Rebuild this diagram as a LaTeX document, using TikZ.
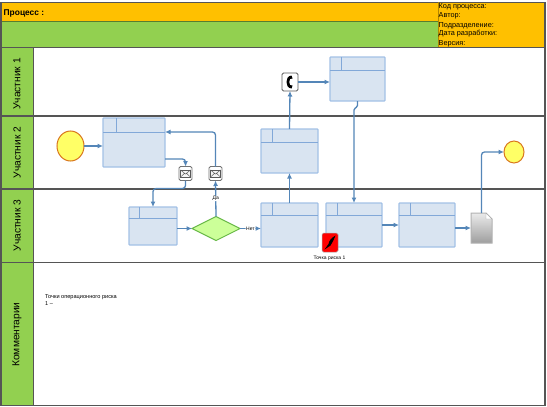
\documentclass[tikz,border=0pt]{standalone}
\usepackage{fontspec}
\setmainfont{Liberation Sans}
\usetikzlibrary{arrows.meta,shapes.geometric,calc}
\definecolor{hdrorange}{HTML}{FFC000}
\definecolor{hdrgreen}{HTML}{92D050}
\definecolor{laneline}{HTML}{555555}
\definecolor{taskfill}{HTML}{D9E4F1}
\definecolor{taskedge}{HTML}{A3C1E6}
\definecolor{taskhdr}{HTML}{82A8D8}
\definecolor{flow}{HTML}{5486B8}
\definecolor{evfill}{HTML}{FFFF66}
\definecolor{evedge}{HTML}{D9771E}
\definecolor{gwfill}{HTML}{CCFF99}
\definecolor{gwedge}{HTML}{66B845}
\tikzset{
 taskbox/.style={draw=taskedge,fill=taskfill,line width=1.2pt,rounded corners=0.7pt,inner sep=0pt,outer sep=0pt},
 taskline/.style={draw=taskhdr,line width=1pt},
 flowline/.style={draw=flow,line width=1.3pt,rounded corners=3pt,-{Latex[length=5.5pt,width=5pt]}},
 iconbox/.style={draw=black!55,fill=white,line width=0.9pt,rounded corners=1.5pt,inner sep=0pt,outer sep=0pt,minimum width=13pt,minimum height=14pt},
 eventshape/.style={ellipse,draw=evedge,fill=evfill,line width=1pt,inner sep=0pt,outer sep=0pt},
 lanelabel/.style={rotate=90,font=\fontsize{10.2}{12}\selectfont,inner sep=0pt},
 infotext/.style={anchor=base west,font=\fontsize{7.3}{9}\selectfont,inner sep=0pt},
 tinytext/.style={font=\fontsize{5}{6}\selectfont,inner sep=0pt},
 commenttext/.style={anchor=base west,font=\fontsize{5.6}{6}\selectfont,inner sep=0pt},
 laneborder/.style={draw=laneline,line width=1.1pt},
}
\newcommand{\tasklines}[3]{%
 \draw[taskline] ([yshift=-#2pt]#1.north west) -- ([yshift=-#2pt]#1.north east);
 \draw[taskline] ([xshift=#3pt]#1.north west) -- ([xshift=#3pt,yshift=-#2pt]#1.north west);
}
\newcommand{\envelope}[1]{%
 \draw[black!65,line width=0.6pt,fill=black!4] ($(#1)+(-5,-3.6)$) rectangle ($(#1)+(5,3.6)$);
 \draw[black!65,line width=0.5pt] ($(#1)+(-5,-3.6)$) -- ($(#1)+(0,0.6)$) -- ($(#1)+(5,-3.6)$)
   ($(#1)+(-5,3.6)$) -- ($(#1)+(-1,-0.3)$) ($(#1)+(5,3.6)$) -- ($(#1)+(1,-0.3)$);
}
\begin{document}
\begin{tikzpicture}[x=1pt,y=-1pt]
\useasboundingbox (0,0) rectangle (547,407);
\fill[white] (0,0) rectangle (547,407);
% header
\fill[hdrorange] (1,2) rectangle (545,21);
\fill[hdrorange] (438,21) rectangle (545,47);
\fill[hdrgreen] (1,21) rectangle (438,47);
\fill[hdrgreen] (1,47) rectangle (33,406);
\draw[laneline,line width=0.9pt] (1,2) -- (545,2);
\draw[hdrgreen!60!black,line width=0.5pt] (1,21) -- (438,21);
\draw[hdrorange!70!black,line width=0.5pt] (438,2) -- (438,47);
\node[anchor=base west,inner sep=0pt,font=\fontsize{8.4}{10}\selectfont\bfseries] (title) at (3.5,15) {Процесс :};
\node[infotext] (i1) at (438.5,8.5) {Код процесса:};
\node[infotext] (i2) at (438.5,17.5) {Автор:};
\node[infotext] (i3) at (438.5,27.5) {Подразделение:};
\node[infotext] (i4) at (438.5,35.5) {Дата разработки:};
\node[infotext] (i5) at (438.5,45.5) {Версия:};
% lanes
\foreach \yy in {47.5,116,189,262.5,405.5} \draw[laneborder] (1,\yy) -- (545,\yy);
\draw[laneborder] (1,2) -- (1,405.5) (545,2) -- (545,405.5);
\draw[laneline,line width=0.9pt] (33.5,47.5) -- (33.5,405.5);
\node[lanelabel] (l1) at (17,84) {Участник 1};
\node[lanelabel] (l2) at (17,152.5) {Участник 2};
\node[lanelabel] (l3) at (17,225.5) {Участник 3};
\node[lanelabel] (l4) at (17,334.5) {Комментарии};
\node[commenttext] (c1) at (45,298) {Точки операционного риска};
\node[commenttext] (c2) at (45,305.5) {1 --};
% tasks
\node[taskbox,minimum width=55pt,minimum height=44pt] (T1) at (357.5,79) {};
\tasklines{T1}{13}{11}
\node[taskbox,minimum width=62pt,minimum height=49pt] (A) at (134,142.5) {};
\tasklines{A}{14}{13}
\node[taskbox,minimum width=57pt,minimum height=44pt] (D) at (289.5,151) {};
\tasklines{D}{13}{11}
\node[taskbox,minimum width=48pt,minimum height=38pt] (B) at (153,226) {};
\tasklines{B}{11}{10}
\node[taskbox,minimum width=57pt,minimum height=44pt] (C) at (289.5,225) {};
\tasklines{C}{12}{11}
\node[taskbox,minimum width=56pt,minimum height=44pt] (E) at (354,225) {};
\tasklines{E}{12}{11}
\node[taskbox,minimum width=56pt,minimum height=44pt] (F) at (427,225) {};
\tasklines{F}{12}{11}
% events
\node[eventshape,minimum width=27pt,minimum height=30pt] (start) at (70.5,146) {};
\node[eventshape,minimum width=20pt,minimum height=22pt] (end) at (514,152) {};
% gateway
\node[diamond,aspect=2,draw=gwedge,fill=gwfill,line width=0.9pt,inner sep=0pt,outer sep=0pt,minimum width=48pt,minimum height=24pt] (gw) at (216,228.5) {};
% icons
\node[iconbox] (m1) at (185.5,173.5) {};
\envelope{m1}
\node[iconbox] (m2) at (215.5,173.5) {};
\envelope{m2}
\node[iconbox,minimum width=16pt,minimum height=18pt,draw=black!65] (ph) at (290,82) {};
\fill[black] (291.5,75.5) .. controls (287.5,76) and (286.5,79) .. (286.5,82) .. controls (286.5,85) and (287.5,88) .. (291.5,88.5) -- (292.5,85.5) -- (290,85) .. controls (289,83) and (289,81) .. (290,79) -- (292.5,78.5) -- cycle;
% document
\node[inner sep=0pt,outer sep=0pt,minimum width=21pt,minimum height=30pt] (doc) at (481.5,228) {};
\shade[top color=black!8,bottom color=black!38,draw=black!30,line width=1pt] (471,213) -- (486,213) -- (492,219) -- (492,243) -- (471,243) -- cycle;
\fill[white,draw=black!35,line width=0.4pt] (486,213) -- (486,219) -- (492,219) -- cycle;
% risk
\node[fill=red,draw=black!35,line width=0.5pt,rounded corners=1.5pt,inner sep=0pt,outer sep=0pt,minimum width=16pt,minimum height=19pt] (risk) at (330,242.5) {};
\fill[black] (335.5,235.5) .. controls (331,238) and (329,241) .. (328.5,244) -- (324.5,249.5) -- (330.5,245.5) .. controls (332.5,242) and (334.5,239) .. (335.5,235.5) -- cycle;
\node[tinytext] (rl) at (329.5,258) {Точка риска 1};
% connectors
\draw[flowline] (start.east) -- (A.west |- start.east);
\draw[flowline] ([yshift=8pt]A.south east) -| (m1.north);
\draw[flowline] (m1.south) -- ++(0,8) -| (B.north);
\draw[flowline] (gw.north) -- node[tinytext,fill=white,inner sep=0.5pt] (yes) {Да} (m2.south);
\draw[flowline] (m2.north) |- ([yshift=-14pt]A.north east);
\draw[flowline] (B.east |- gw.west) -- (gw.west);
\draw[flowline] (gw.east) -- node[tinytext,fill=white,inner sep=0.5pt] (no) {Нет} (C.west |- gw.east);
\draw[flowline] (C.north) -- (D.south);
\draw[flowline] (D.north) -- (ph.south);
\draw[flowline] (ph.east) -- (T1.west |- ph.east);
\draw[flowline,rounded corners=1.5pt] (T1.south) -- ++(0,6) -- ++(-3.5,1.5) -- (E.north);
\draw[flowline] (E.east |- F.west) -- (F.west);
\draw[flowline] (F.east |- doc.west) -- (doc.west);
\draw[flowline] (doc.north) |- (end.west);
\end{tikzpicture}
\end{document}
